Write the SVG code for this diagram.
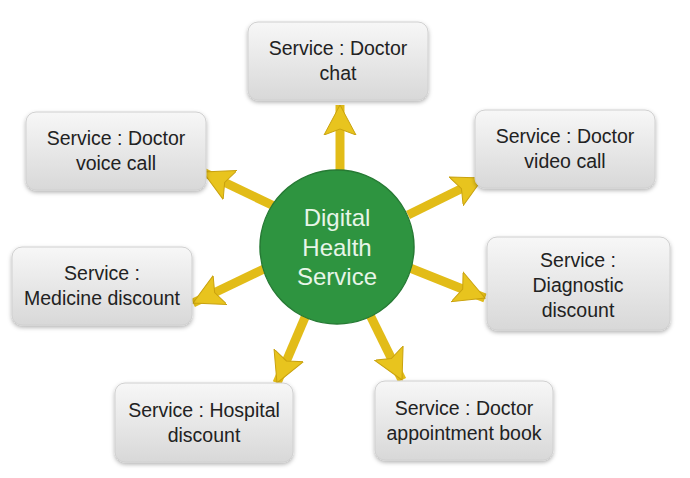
<svg xmlns="http://www.w3.org/2000/svg" width="690" height="478" viewBox="0 0 690 478">
<defs>
<linearGradient id="g" x1="0" y1="0" x2="0" y2="1"><stop offset="0" stop-color="#f7f7f7"/><stop offset="1" stop-color="#d8d8d8"/></linearGradient>
<filter id="sh" x="-10%" y="-10%" width="130%" height="130%"><feDropShadow dx="0" dy="2" stdDeviation="2" flood-color="#000" flood-opacity="0.3"/></filter>
<marker id="ah" markerUnits="userSpaceOnUse" markerWidth="36" markerHeight="36" refX="30" refY="18" orient="auto"><path d="M0,2 L30,18 L0,34 L6,18 Z" fill="#e8c41e" stroke="#c9a20f" stroke-width="1"/></marker>
<style>
.box{fill:url(#g);stroke:#d0d0d0;filter:url(#sh)}
.t{font-family:"Liberation Sans",Arial,sans-serif;font-size:19.5px;fill:#222;text-anchor:middle}
.a{stroke:#e2bc18;stroke-width:9;fill:none;marker-end:url(#ah)}
</style>
</defs>
<rect width="690" height="478" fill="#fff"/>
<g id="connectors">
<line class="a" x1="340" y1="172" x2="340" y2="105"/>
<line class="a" x1="274" y1="206" x2="203" y2="172"/>
<line class="a" x1="408" y1="215" x2="483" y2="178"/>
<line class="a" x1="410" y1="268" x2="485" y2="298"/>
<line class="a" x1="266" y1="268" x2="193" y2="303"/>
<line class="a" x1="306" y1="315" x2="277" y2="383"/>
<line class="a" x1="370" y1="315" x2="402" y2="380"/>
</g>
<g id="center"><circle cx="337" cy="247" r="77" fill="#2e9440" stroke="#267a34" stroke-width="1.5"/>
<text class="t" style="fill:#e8f5e8;font-size:24px"><tspan x="337" y="226">Digital</tspan><tspan x="337" y="256">Health</tspan><tspan x="337" y="285">Service</tspan></text></g>
<g id="chat"><rect class="box" x="248" y="22" width="180" height="78" rx="10"/><text class="t"><tspan x="338" y="55">Service : Doctor</tspan><tspan x="338" y="80">chat</tspan></text></g>
<g id="voice"><rect class="box" x="26" y="112" width="180" height="78" rx="10"/><text class="t"><tspan x="116" y="145">Service : Doctor</tspan><tspan x="116" y="170">voice call</tspan></text></g>
<g id="video"><rect class="box" x="475" y="110" width="180" height="78" rx="10"/><text class="t"><tspan x="565" y="143">Service : Doctor</tspan><tspan x="565" y="168">video call</tspan></text></g>
<g id="medicine"><rect class="box" x="12" y="247" width="180" height="78" rx="10"/><text class="t"><tspan x="102" y="280">Service :</tspan><tspan x="102" y="305">Medicine discount</tspan></text></g>
<g id="diagnostic"><rect class="box" x="487" y="237" width="183" height="93" rx="10"/><text class="t"><tspan x="578" y="267">Service :</tspan><tspan x="578" y="292">Diagnostic</tspan><tspan x="578" y="317">discount</tspan></text></g>
<g id="hospital"><rect class="box" x="115" y="383" width="178" height="79" rx="10"/><text class="t"><tspan x="204" y="417">Service : Hospital</tspan><tspan x="204" y="442">discount</tspan></text></g>
<g id="appointment"><rect class="box" x="375" y="381" width="178" height="79" rx="10"/><text class="t"><tspan x="464" y="415">Service : Doctor</tspan><tspan x="464" y="440">appointment book</tspan></text></g>
</svg>
